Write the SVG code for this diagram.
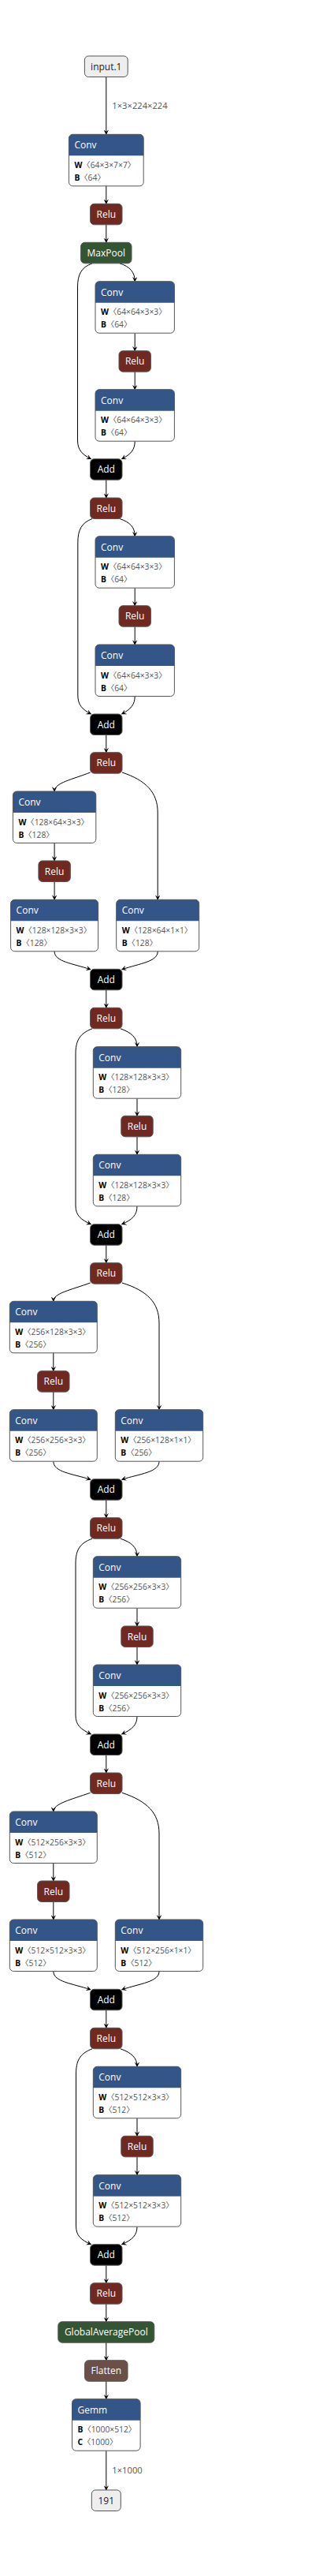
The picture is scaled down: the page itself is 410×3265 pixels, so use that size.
<svg xmlns="http://www.w3.org/2000/svg" width="410" height="3265" viewBox="0 0 410 3265">
<style>
.bg{fill:#fff}
.brd{fill:none;stroke:#555;stroke-width:1}
.body{fill:#fff}
.layer{fill:#335588}
.act{fill:#702921;stroke:#555;stroke-width:1}
.pool{fill:#335533;stroke:#555;stroke-width:1}
.add{fill:#000;stroke:#555;stroke-width:1}
.shape{fill:#6c4f47;stroke:#555;stroke-width:1}
.io{fill:#eee;stroke:#555;stroke-width:1}
.t{font-family:"Open Sans","Liberation Sans",sans-serif;font-size:12px;fill:#fff}
.tc{text-anchor:middle}
.tio{fill:#222}
.a{font-family:"Open Sans","Noto Sans CJK JP",sans-serif;font-size:10.3px;fill:#555}
.an{font-weight:bold;fill:#000}
.el{font-family:"Open Sans","Liberation Sans",sans-serif;font-size:11.2px;fill:#555}
.e{fill:none;stroke:#000;stroke-width:1;marker-end:url(#arr)}
</style>
<defs>
<marker id="arr" viewBox="0 0 10 10" refX="9" refY="5" markerWidth="6.5" markerHeight="6.5" markerUnits="userSpaceOnUse" orient="auto">
<path d="M0,0 L10,5 L0,10 L4,5 Z" fill="#000"/>
</marker>
</defs>
<rect class="bg" x="0" y="0" width="410" height="3265"/>

<g id="edges">
<path class="e" d="M134.8,97.5 V170.3"/>
<text class="el" x="142.3" y="138">1×3×224×224</text>
<path class="e" d="M134.8,235.8 V258.3"/>
<path class="e" d="M134.8,284.8 V307.3"/>
<path class="e" d="M152,333.8 C165,338 171.2,345 171.2,356.7"/>
<path class="e" d="M117,333.8 C103,339 98.5,348 98.5,364 V558 C98.5,570 104,576 115.5,581.7"/>
<path class="e" d="M171.2,422.2 V444.7"/>
<path class="e" d="M171.2,471.2 V493.7"/>
<path class="e" d="M171.2,559.2 C171.2,570 166,576 154.5,581.7"/>
<path class="e" d="M134.8,608.2 V631"/>
<path class="e" d="M152,657.5 C165,662 171.2,668 171.2,679.7"/>
<path class="e" d="M117,657.5 C103,663 98.8,672 98.8,688 V881 C98.8,893 104,899 115.5,905"/>
<path class="e" d="M171.2,745.2 V767.7"/>
<path class="e" d="M171.2,794.2 V817"/>
<path class="e" d="M171.2,882.5 C171.2,893 166,899 154.5,905"/>
<path class="e" d="M134.8,931.5 V953.7"/>
<path class="e" d="M114.6,979 C92,988 69.1,992 69.1,1003"/>
<path class="e" d="M155,979 C185,989 200.2,1004 200.2,1030 V1140.3"/>
<path class="e" d="M69.1,1068.5 V1091"/>
<path class="e" d="M69.1,1117.5 V1140.3"/>
<path class="e" d="M69.1,1205.8 C69.1,1219 92,1221 115,1228.8"/>
<path class="e" d="M200.2,1205.8 C200.2,1219 178,1221 154.6,1228.8"/>
<path class="e" d="M134.8,1254.8 V1277.3"/>
<path class="e" d="M153,1303.8 C167,1309 174,1315 174,1326.7"/>
<path class="e" d="M117,1303.8 C101,1310 96,1319 96,1336 V1528 C96,1541 103,1546 115.5,1551.7"/>
<path class="e" d="M174,1392.2 V1414.3"/>
<path class="e" d="M174,1440.8 V1463.3"/>
<path class="e" d="M174,1528.8 C174,1540 168,1546 154.5,1551.7"/>
<path class="e" d="M134.8,1578.2 V1600.7"/>
<path class="e" d="M114.6,1626 C90,1635 67.8,1639 67.8,1649.3"/>
<path class="e" d="M155,1626 C187,1636 202,1651 202,1677 V1786.7"/>
<path class="e" d="M67.8,1714.8 V1737.7"/>
<path class="e" d="M67.8,1764.2 V1786.7"/>
<path class="e" d="M67.8,1852.2 C67.8,1866 92,1868 115,1875.2"/>
<path class="e" d="M202,1852.2 C202,1866 178,1868 154.6,1875.2"/>
<path class="e" d="M134.8,1901.2 V1923.7"/>
<path class="e" d="M153,1950.2 C167,1955 174,1961 174,1972.7"/>
<path class="e" d="M117,1950.2 C101,1956 96,1965 96,1982 V2174 C96,2187 103,2192 115.5,2198"/>
<path class="e" d="M174,2038.2 V2061"/>
<path class="e" d="M174,2087.5 V2110"/>
<path class="e" d="M174,2175.5 C174,2186 168,2192 154.5,2198"/>
<path class="e" d="M134.8,2224.5 V2247"/>
<path class="e" d="M114.6,2272.3 C90,2281 67.8,2286 67.8,2296"/>
<path class="e" d="M155,2272.3 C187,2283 202,2298 202,2324 V2433"/>
<path class="e" d="M67.8,2361.5 V2384"/>
<path class="e" d="M67.8,2410.5 V2433"/>
<path class="e" d="M67.8,2498.5 C67.8,2512 92,2514 115,2521.8"/>
<path class="e" d="M202,2498.5 C202,2512 178,2514 154.6,2521.8"/>
<path class="e" d="M134.8,2547.8 V2570.3"/>
<path class="e" d="M153,2596.8 C167,2602 174,2608 174,2619.3"/>
<path class="e" d="M117,2596.8 C101,2603 96.5,2612 96.5,2629 V2821 C96.5,2834 103,2839 115.5,2844.7"/>
<path class="e" d="M174,2684.8 V2707.3"/>
<path class="e" d="M174,2733.8 V2756.7"/>
<path class="e" d="M174,2822.2 C174,2833 168,2839 154.5,2844.7"/>
<path class="e" d="M134.8,2871.2 V2893.7"/>
<path class="e" d="M134.8,2920.2 V2942.7"/>
<path class="e" d="M134.8,2969.2 V2991.7"/>
<path class="e" d="M134.8,3018.2 V3040.7"/>
<path class="e" d="M134.8,3106.2 V3156"/>
<text class="el" x="142.3" y="3135">1×1000</text>
</g>

<g id="input_1" transform="translate(107.4,71)"><rect class="io" width="54.8" height="26.5" rx="5"/><text class="t tc tio" x="27.4" y="17.5">input.1</text></g>

<g id="conv_0" transform="translate(87.4,170.3)"><rect class="body" width="94.8" height="65.5" rx="5"/><path class="layer" d="M0,27 V5 a5,5 0 0 1 5,-5 H89.8 a5,5 0 0 1 5,5 V27 Z"/><rect class="brd" width="94.8" height="65.5" rx="5"/><text class="t" x="7" y="18">Conv</text><text class="a" x="7" y="42.5"><tspan class="an">W</tspan>〈64×3×7×7〉</text><text class="a" x="7" y="58.5"><tspan class="an">B</tspan>〈64〉</text></g>
<g id="relu_0" transform="translate(114.6,258.3)"><rect class="act" width="40.4" height="26.5" rx="5"/><text class="t tc" x="20.2" y="17.5">Relu</text></g>
<g id="maxpool_0" transform="translate(102.6,307.3)"><rect class="pool" width="64.4" height="26.5" rx="5"/><text class="t tc" x="32.2" y="17.5">MaxPool</text></g>

<g id="conv_1" transform="translate(121,356.7)"><rect class="body" width="100.4" height="65.5" rx="5"/><path class="layer" d="M0,27 V5 a5,5 0 0 1 5,-5 H95.4 a5,5 0 0 1 5,5 V27 Z"/><rect class="brd" width="100.4" height="65.5" rx="5"/><text class="t" x="7" y="18">Conv</text><text class="a" x="7" y="42.5"><tspan class="an">W</tspan>〈64×64×3×3〉</text><text class="a" x="7" y="58.5"><tspan class="an">B</tspan>〈64〉</text></g>
<g id="relu_1" transform="translate(151,444.7)"><rect class="act" width="40.4" height="26.5" rx="5"/><text class="t tc" x="20.2" y="17.5">Relu</text></g>
<g id="conv_2" transform="translate(121,493.7)"><rect class="body" width="100.4" height="65.5" rx="5"/><path class="layer" d="M0,27 V5 a5,5 0 0 1 5,-5 H95.4 a5,5 0 0 1 5,5 V27 Z"/><rect class="brd" width="100.4" height="65.5" rx="5"/><text class="t" x="7" y="18">Conv</text><text class="a" x="7" y="42.5"><tspan class="an">W</tspan>〈64×64×3×3〉</text><text class="a" x="7" y="58.5"><tspan class="an">B</tspan>〈64〉</text></g>
<g id="add_0" transform="translate(114.6,581.7)"><rect class="add" width="40.4" height="26.5" rx="5"/><text class="t tc" x="20.2" y="17.5">Add</text></g>
<g id="relu_2" transform="translate(114.6,631)"><rect class="act" width="40.4" height="26.5" rx="5"/><text class="t tc" x="20.2" y="17.5">Relu</text></g>

<g id="conv_3" transform="translate(121,679.7)"><rect class="body" width="100.4" height="65.5" rx="5"/><path class="layer" d="M0,27 V5 a5,5 0 0 1 5,-5 H95.4 a5,5 0 0 1 5,5 V27 Z"/><rect class="brd" width="100.4" height="65.5" rx="5"/><text class="t" x="7" y="18">Conv</text><text class="a" x="7" y="42.5"><tspan class="an">W</tspan>〈64×64×3×3〉</text><text class="a" x="7" y="58.5"><tspan class="an">B</tspan>〈64〉</text></g>
<g id="relu_3" transform="translate(151,767.7)"><rect class="act" width="40.4" height="26.5" rx="5"/><text class="t tc" x="20.2" y="17.5">Relu</text></g>
<g id="conv_4" transform="translate(121,817)"><rect class="body" width="100.4" height="65.5" rx="5"/><path class="layer" d="M0,27 V5 a5,5 0 0 1 5,-5 H95.4 a5,5 0 0 1 5,5 V27 Z"/><rect class="brd" width="100.4" height="65.5" rx="5"/><text class="t" x="7" y="18">Conv</text><text class="a" x="7" y="42.5"><tspan class="an">W</tspan>〈64×64×3×3〉</text><text class="a" x="7" y="58.5"><tspan class="an">B</tspan>〈64〉</text></g>
<g id="add_1" transform="translate(114.6,905)"><rect class="add" width="40.4" height="26.5" rx="5"/><text class="t tc" x="20.2" y="17.5">Add</text></g>
<g id="relu_4" transform="translate(114.6,953.7)"><rect class="act" width="40.4" height="26.5" rx="5"/><text class="t tc" x="20.2" y="17.5">Relu</text></g>

<g id="conv_5" transform="translate(16.4,1003)"><rect class="body" width="105.4" height="65.5" rx="5"/><path class="layer" d="M0,27 V5 a5,5 0 0 1 5,-5 H100.4 a5,5 0 0 1 5,5 V27 Z"/><rect class="brd" width="105.4" height="65.5" rx="5"/><text class="t" x="7" y="18">Conv</text><text class="a" x="7" y="42.5"><tspan class="an">W</tspan>〈128×64×3×3〉</text><text class="a" x="7" y="58.5"><tspan class="an">B</tspan>〈128〉</text></g>
<g id="relu_5" transform="translate(48.9,1091)"><rect class="act" width="40.4" height="26.5" rx="5"/><text class="t tc" x="20.2" y="17.5">Relu</text></g>
<g id="conv_6" transform="translate(13.6,1140.3)"><rect class="body" width="111" height="65.5" rx="5"/><path class="layer" d="M0,27 V5 a5,5 0 0 1 5,-5 H106 a5,5 0 0 1 5,5 V27 Z"/><rect class="brd" width="111" height="65.5" rx="5"/><text class="t" x="7" y="18">Conv</text><text class="a" x="7" y="42.5"><tspan class="an">W</tspan>〈128×128×3×3〉</text><text class="a" x="7" y="58.5"><tspan class="an">B</tspan>〈128〉</text></g>
<g id="conv_7" transform="translate(147.7,1140.3)"><rect class="body" width="105" height="65.5" rx="5"/><path class="layer" d="M0,27 V5 a5,5 0 0 1 5,-5 H100 a5,5 0 0 1 5,5 V27 Z"/><rect class="brd" width="105" height="65.5" rx="5"/><text class="t" x="7" y="18">Conv</text><text class="a" x="7" y="42.5"><tspan class="an">W</tspan>〈128×64×1×1〉</text><text class="a" x="7" y="58.5"><tspan class="an">B</tspan>〈128〉</text></g>
<g id="add_2" transform="translate(114.6,1228.3)"><rect class="add" width="40.4" height="26.5" rx="5"/><text class="t tc" x="20.2" y="17.5">Add</text></g>
<g id="relu_6" transform="translate(114.6,1277.3)"><rect class="act" width="40.4" height="26.5" rx="5"/><text class="t tc" x="20.2" y="17.5">Relu</text></g>

<g id="conv_8" transform="translate(118.3,1326.7)"><rect class="body" width="111.4" height="65.5" rx="5"/><path class="layer" d="M0,27 V5 a5,5 0 0 1 5,-5 H106.4 a5,5 0 0 1 5,5 V27 Z"/><rect class="brd" width="111.4" height="65.5" rx="5"/><text class="t" x="7" y="18">Conv</text><text class="a" x="7" y="42.5"><tspan class="an">W</tspan>〈128×128×3×3〉</text><text class="a" x="7" y="58.5"><tspan class="an">B</tspan>〈128〉</text></g>
<g id="relu_7" transform="translate(153.8,1414.3)"><rect class="act" width="40.4" height="26.5" rx="5"/><text class="t tc" x="20.2" y="17.5">Relu</text></g>
<g id="conv_9" transform="translate(118.3,1463.3)"><rect class="body" width="111.4" height="65.5" rx="5"/><path class="layer" d="M0,27 V5 a5,5 0 0 1 5,-5 H106.4 a5,5 0 0 1 5,5 V27 Z"/><rect class="brd" width="111.4" height="65.5" rx="5"/><text class="t" x="7" y="18">Conv</text><text class="a" x="7" y="42.5"><tspan class="an">W</tspan>〈128×128×3×3〉</text><text class="a" x="7" y="58.5"><tspan class="an">B</tspan>〈128〉</text></g>
<g id="add_3" transform="translate(114.6,1551.7)"><rect class="add" width="40.4" height="26.5" rx="5"/><text class="t tc" x="20.2" y="17.5">Add</text></g>
<g id="relu_8" transform="translate(114.6,1600.7)"><rect class="act" width="40.4" height="26.5" rx="5"/><text class="t tc" x="20.2" y="17.5">Relu</text></g>

<g id="conv_10" transform="translate(12.3,1649.3)"><rect class="body" width="111" height="65.5" rx="5"/><path class="layer" d="M0,27 V5 a5,5 0 0 1 5,-5 H106 a5,5 0 0 1 5,5 V27 Z"/><rect class="brd" width="111" height="65.5" rx="5"/><text class="t" x="7" y="18">Conv</text><text class="a" x="7" y="42.5"><tspan class="an">W</tspan>〈256×128×3×3〉</text><text class="a" x="7" y="58.5"><tspan class="an">B</tspan>〈256〉</text></g>
<g id="relu_9" transform="translate(47.6,1737.7)"><rect class="act" width="40.4" height="26.5" rx="5"/><text class="t tc" x="20.2" y="17.5">Relu</text></g>
<g id="conv_11" transform="translate(12.3,1786.7)"><rect class="body" width="111" height="65.5" rx="5"/><path class="layer" d="M0,27 V5 a5,5 0 0 1 5,-5 H106 a5,5 0 0 1 5,5 V27 Z"/><rect class="brd" width="111" height="65.5" rx="5"/><text class="t" x="7" y="18">Conv</text><text class="a" x="7" y="42.5"><tspan class="an">W</tspan>〈256×256×3×3〉</text><text class="a" x="7" y="58.5"><tspan class="an">B</tspan>〈256〉</text></g>
<g id="conv_12" transform="translate(146.3,1786.7)"><rect class="body" width="111.4" height="65.5" rx="5"/><path class="layer" d="M0,27 V5 a5,5 0 0 1 5,-5 H106.4 a5,5 0 0 1 5,5 V27 Z"/><rect class="brd" width="111.4" height="65.5" rx="5"/><text class="t" x="7" y="18">Conv</text><text class="a" x="7" y="42.5"><tspan class="an">W</tspan>〈256×128×1×1〉</text><text class="a" x="7" y="58.5"><tspan class="an">B</tspan>〈256〉</text></g>
<g id="add_4" transform="translate(114.6,1874.7)"><rect class="add" width="40.4" height="26.5" rx="5"/><text class="t tc" x="20.2" y="17.5">Add</text></g>
<g id="relu_10" transform="translate(114.6,1923.7)"><rect class="act" width="40.4" height="26.5" rx="5"/><text class="t tc" x="20.2" y="17.5">Relu</text></g>

<g id="conv_13" transform="translate(118.3,1972.7)"><rect class="body" width="111.4" height="65.5" rx="5"/><path class="layer" d="M0,27 V5 a5,5 0 0 1 5,-5 H106.4 a5,5 0 0 1 5,5 V27 Z"/><rect class="brd" width="111.4" height="65.5" rx="5"/><text class="t" x="7" y="18">Conv</text><text class="a" x="7" y="42.5"><tspan class="an">W</tspan>〈256×256×3×3〉</text><text class="a" x="7" y="58.5"><tspan class="an">B</tspan>〈256〉</text></g>
<g id="relu_11" transform="translate(153.8,2061)"><rect class="act" width="40.4" height="26.5" rx="5"/><text class="t tc" x="20.2" y="17.5">Relu</text></g>
<g id="conv_14" transform="translate(118.3,2110)"><rect class="body" width="111.4" height="65.5" rx="5"/><path class="layer" d="M0,27 V5 a5,5 0 0 1 5,-5 H106.4 a5,5 0 0 1 5,5 V27 Z"/><rect class="brd" width="111.4" height="65.5" rx="5"/><text class="t" x="7" y="18">Conv</text><text class="a" x="7" y="42.5"><tspan class="an">W</tspan>〈256×256×3×3〉</text><text class="a" x="7" y="58.5"><tspan class="an">B</tspan>〈256〉</text></g>
<g id="add_5" transform="translate(114.6,2198)"><rect class="add" width="40.4" height="26.5" rx="5"/><text class="t tc" x="20.2" y="17.5">Add</text></g>
<g id="relu_12" transform="translate(114.6,2247)"><rect class="act" width="40.4" height="26.5" rx="5"/><text class="t tc" x="20.2" y="17.5">Relu</text></g>

<g id="conv_15" transform="translate(12.3,2296)"><rect class="body" width="111" height="65.5" rx="5"/><path class="layer" d="M0,27 V5 a5,5 0 0 1 5,-5 H106 a5,5 0 0 1 5,5 V27 Z"/><rect class="brd" width="111" height="65.5" rx="5"/><text class="t" x="7" y="18">Conv</text><text class="a" x="7" y="42.5"><tspan class="an">W</tspan>〈512×256×3×3〉</text><text class="a" x="7" y="58.5"><tspan class="an">B</tspan>〈512〉</text></g>
<g id="relu_13" transform="translate(47.6,2384)"><rect class="act" width="40.4" height="26.5" rx="5"/><text class="t tc" x="20.2" y="17.5">Relu</text></g>
<g id="conv_16" transform="translate(12.3,2433)"><rect class="body" width="111" height="65.5" rx="5"/><path class="layer" d="M0,27 V5 a5,5 0 0 1 5,-5 H106 a5,5 0 0 1 5,5 V27 Z"/><rect class="brd" width="111" height="65.5" rx="5"/><text class="t" x="7" y="18">Conv</text><text class="a" x="7" y="42.5"><tspan class="an">W</tspan>〈512×512×3×3〉</text><text class="a" x="7" y="58.5"><tspan class="an">B</tspan>〈512〉</text></g>
<g id="conv_17" transform="translate(146.3,2433)"><rect class="body" width="111.4" height="65.5" rx="5"/><path class="layer" d="M0,27 V5 a5,5 0 0 1 5,-5 H106.4 a5,5 0 0 1 5,5 V27 Z"/><rect class="brd" width="111.4" height="65.5" rx="5"/><text class="t" x="7" y="18">Conv</text><text class="a" x="7" y="42.5"><tspan class="an">W</tspan>〈512×256×1×1〉</text><text class="a" x="7" y="58.5"><tspan class="an">B</tspan>〈512〉</text></g>
<g id="add_6" transform="translate(114.6,2521.3)"><rect class="add" width="40.4" height="26.5" rx="5"/><text class="t tc" x="20.2" y="17.5">Add</text></g>
<g id="relu_14" transform="translate(114.6,2570.3)"><rect class="act" width="40.4" height="26.5" rx="5"/><text class="t tc" x="20.2" y="17.5">Relu</text></g>

<g id="conv_18" transform="translate(118.3,2619.3)"><rect class="body" width="111.4" height="65.5" rx="5"/><path class="layer" d="M0,27 V5 a5,5 0 0 1 5,-5 H106.4 a5,5 0 0 1 5,5 V27 Z"/><rect class="brd" width="111.4" height="65.5" rx="5"/><text class="t" x="7" y="18">Conv</text><text class="a" x="7" y="42.5"><tspan class="an">W</tspan>〈512×512×3×3〉</text><text class="a" x="7" y="58.5"><tspan class="an">B</tspan>〈512〉</text></g>
<g id="relu_15" transform="translate(153.8,2707.3)"><rect class="act" width="40.4" height="26.5" rx="5"/><text class="t tc" x="20.2" y="17.5">Relu</text></g>
<g id="conv_19" transform="translate(118.3,2756.7)"><rect class="body" width="111.4" height="65.5" rx="5"/><path class="layer" d="M0,27 V5 a5,5 0 0 1 5,-5 H106.4 a5,5 0 0 1 5,5 V27 Z"/><rect class="brd" width="111.4" height="65.5" rx="5"/><text class="t" x="7" y="18">Conv</text><text class="a" x="7" y="42.5"><tspan class="an">W</tspan>〈512×512×3×3〉</text><text class="a" x="7" y="58.5"><tspan class="an">B</tspan>〈512〉</text></g>
<g id="add_7" transform="translate(114.6,2844.7)"><rect class="add" width="40.4" height="26.5" rx="5"/><text class="t tc" x="20.2" y="17.5">Add</text></g>
<g id="relu_16" transform="translate(114.6,2893.7)"><rect class="act" width="40.4" height="26.5" rx="5"/><text class="t tc" x="20.2" y="17.5">Relu</text></g>

<g id="globalaveragepool_0" transform="translate(73.8,2942.7)"><rect class="pool" width="122" height="26.5" rx="5"/><text class="t tc" x="61" y="17.5">GlobalAveragePool</text></g>
<g id="flatten_0" transform="translate(107.6,2991.7)"><rect class="shape" width="54.4" height="26.5" rx="5"/><text class="t tc" x="27.2" y="17.5">Flatten</text></g>
<g id="gemm_0" transform="translate(91.5,3040.7)"><rect class="body" width="86.6" height="65.5" rx="5"/><path class="layer" d="M0,27 V5 a5,5 0 0 1 5,-5 H81.6 a5,5 0 0 1 5,5 V27 Z"/><rect class="brd" width="86.6" height="65.5" rx="5"/><text class="t" x="7" y="18">Gemm</text><text class="a" x="7" y="42.5"><tspan class="an">B</tspan>〈1000×512〉</text><text class="a" x="7" y="58.5"><tspan class="an">C</tspan>〈1000〉</text></g>
<g id="output_191" transform="translate(116.3,3156)"><rect class="io" width="37" height="26.5" rx="5"/><text class="t tc tio" x="18.5" y="17.5">191</text></g>
</svg>
